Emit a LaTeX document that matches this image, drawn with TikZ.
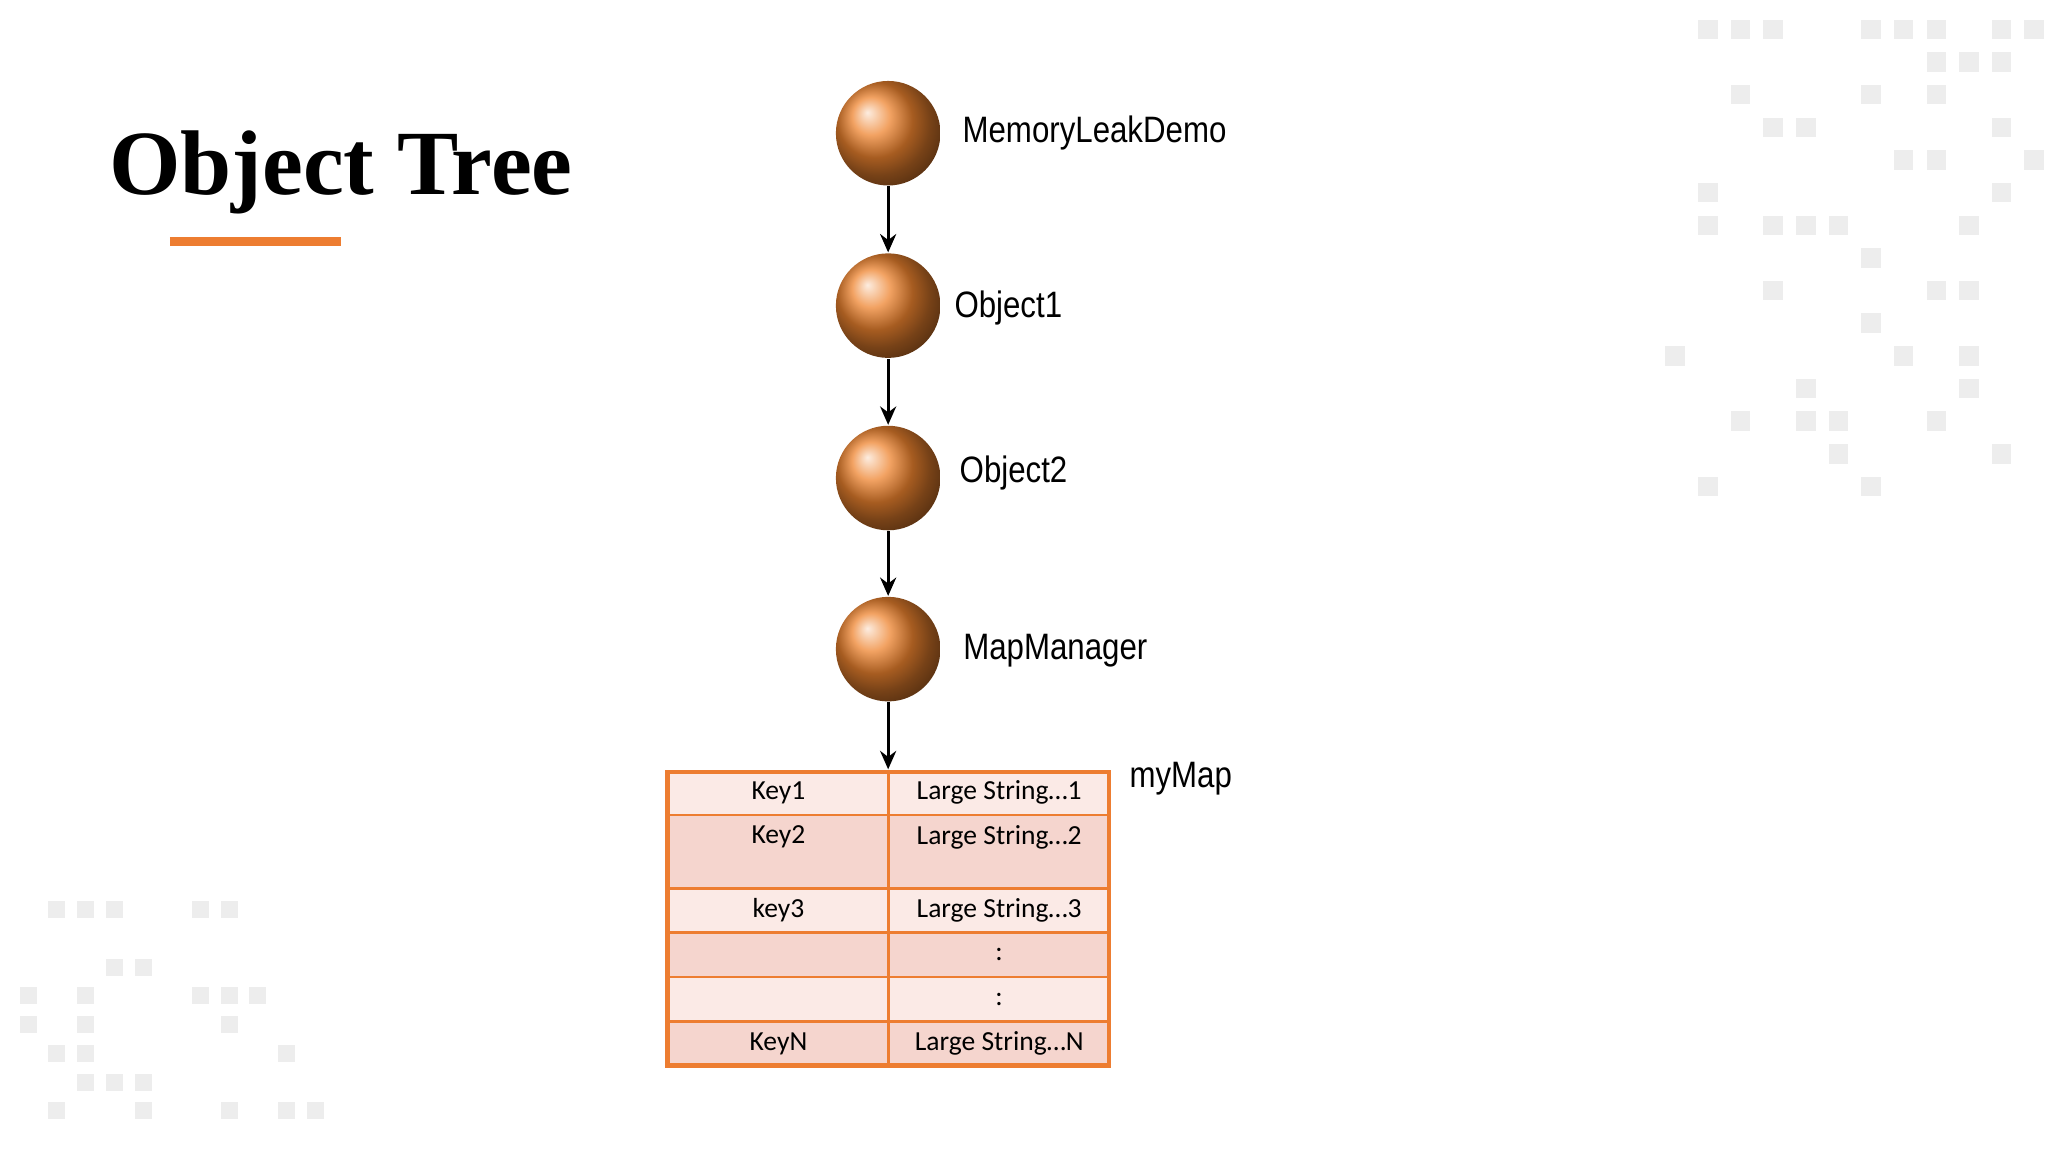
\documentclass[tikz,border=0pt]{standalone}
\usepackage{fontspec}
\setmainfont{Liberation Serif}
\newfontfamily\lab{Liberation Sans}[FakeStretch=0.85]
\newfontfamily\calfnt{Carlito}
\usetikzlibrary{arrows.meta}
\definecolor{org}{HTML}{ED7D31}
\definecolor{rowA}{HTML}{FBEAE6}
\definecolor{rowB}{HTML}{F5D5CE}
\definecolor{sq}{HTML}{EDEDED}
\tikzset{
 ball/.style={circle,minimum size=0.8cm,inner sep=0pt,shading=ball,ball color=org!95!yellow},
 lbl/.style={font=\lab\fontsize{8}{9}\selectfont,anchor=center},
 cell/.style={draw=org,line width=0.6pt},
 ctext/.style={font=\calfnt\fontsize{6}{7}\selectfont},
 arr/.style={-{Stealth[length=4pt,width=3.5pt]},line width=0.6pt}
}
\begin{document}
\begin{tikzpicture}[x=0.01cm,y=-0.01cm]
\useasboundingbox (0,0) rectangle (1568,882);
% background squares
\pgfmathsetseed{7}
\foreach \i in {0,...,14}{\foreach \j in {0,...,17}{
  \pgfmathsetmacro{\p}{rnd}
  \pgfmathsetmacro{\lim}{0.55*(1-\j/18)*(\i/14)}
  \ifdim\p pt<\lim pt
   \fill[sq] (1200+\i*25,15+\j*25) rectangle ++(15,15);
  \fi}}
\foreach \i in {0,...,13}{\foreach \j in {0,...,12}{
  \pgfmathsetmacro{\p}{rnd}
  \pgfmathsetmacro{\lim}{0.55*(1-\i/14)*(\j/12)}
  \ifdim\p pt<\lim pt
   \fill[sq] (15+\i*22,580+\j*22) rectangle ++(13,13);
  \fi}}
% title
\node[font=\bfseries\fontsize{20}{24}\selectfont] (title) at (261,132) {Object Tree};
\draw[org,line width=2pt] (130,185) -- (261,185);
% balls
\node[ball] (m) at (680,102) {};
\node[ball] (o1) at (680,234) {};
\node[ball] (o2) at (680,366) {};
\node[ball] (mm) at (680,497) {};
\node[lbl] (lm) at (838,102) {MemoryLeakDemo};
\node[lbl] (l1) at (772,236) {Object1};
\node[lbl] (l2) at (776,362) {Object2};
\node[lbl] (l3) at (808,498) {MapManager};
\node[lbl] (lmap) at (904,596) {myMap};
\coordinate (tt) at (680,589);
\draw[arr] (m) -- (o1);
\draw[arr] (o1) -- (o2);
\draw[arr] (o2) -- (mm);
\draw[arr] (mm) -- (tt);
% table
\foreach \a/\b/\c in {591/624/rowA,624/680/rowB,680/714/rowA,714/748/rowB,748/782/rowA,782/816/rowB}{
 \fill[\c] (511,\a) rectangle (849,\b);
 \draw[cell] (511,\a) rectangle (680,\b);
 \draw[cell] (680,\a) rectangle (849,\b);}
\draw[org,line width=1pt] (511,591) rectangle (849,816);
\node[ctext] (k1) at (596,607) {Key1};
\node[ctext] (v1) at (765,607) {Large String…1};
\node[ctext] (k2) at (596,641) {Key2};
\node[ctext] (v2) at (765,641) {Large String…2};
\node[ctext] (k3) at (596,697) {key3};
\node[ctext] (v3) at (765,697) {Large String…3};
\node[ctext] (v4) at (765,731) {:};
\node[ctext] (v5) at (765,765) {:};
\node[ctext] (kn) at (596,799) {KeyN};
\node[ctext] (vn) at (765,799) {Large String…N};
\end{tikzpicture}
\end{document}
